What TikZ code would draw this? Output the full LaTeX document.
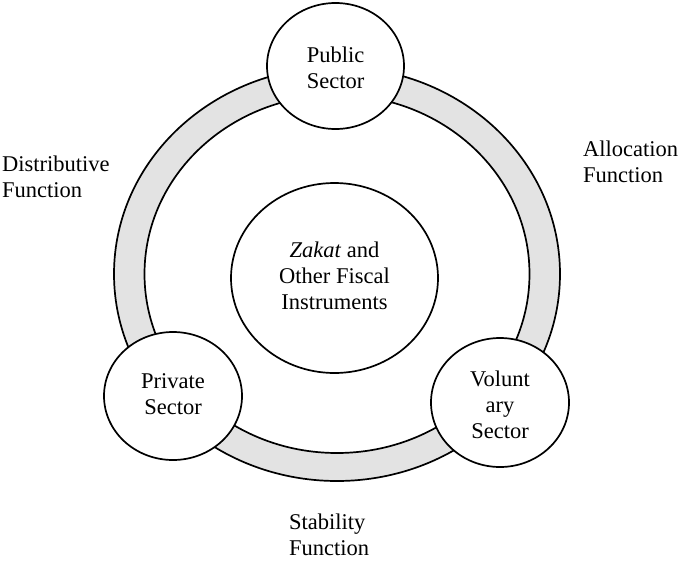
\documentclass[tikz,border=0pt]{standalone}
\usepackage{fontspec}
\setmainfont{Liberation Serif}
\newfontfamily\lserif{Liberation Serif}
\usetikzlibrary{shapes.geometric}
\definecolor{ringgray}{HTML}{E3E3E3}
\tikzset{
  sector/.style={ellipse, draw, fill=white, line width=1.7pt, inner sep=0pt, outer sep=0pt},
  lbl/.style={inner sep=0pt, anchor=base west},
  ringline/.style={line width=1.7pt},
}
\newcommand{\ctext}[1]{\begin{tabular}{@{}c@{}}#1\end{tabular}}
\newcommand{\ltext}[1]{\begin{tabular}[t]{@{}l@{}}#1\end{tabular}}
\newcommand{\lowerby}[2]{\raisebox{-#1}[\height][\depth]{#2}}
\begin{document}
\begin{tikzpicture}[x=1pt,y=-1pt,font=\lserif\fontsize{22.5pt}{26pt}\selectfont]
\useasboundingbox (0,0) rectangle (685,563);
% ring
\coordinate (rc) at (337,274);
\fill[ringgray, even odd rule] (rc) ellipse [x radius=223pt, y radius=207pt]
  (rc) ellipse [x radius=192.5pt, y radius=179pt];
\draw[ringline] (rc) ellipse [x radius=223pt, y radius=207pt];
\draw[ringline] (rc) ellipse [x radius=192.5pt, y radius=179pt];
% centre
\node[sector, minimum width=207pt, minimum height=190pt] (zakat) at (334.5,278)
  {\ctext{\textit{Zakat} and\\Other Fiscal\\Instruments}};
% sectors
\node[sector, minimum width=137pt, minimum height=126pt] (public) at (335.5,66)
  {\lowerby{4pt}{\ctext{Public\\Sector}}};
\node[sector, minimum width=138pt, minimum height=128pt] (private) at (173,396)
  {\ctext{Private\\Sector}};
\node[sector, minimum width=138pt, minimum height=129pt] (voluntary) at (500,402.5)
  {\lowerby{5pt}{\ctext{Volunt\\ary\\Sector}}};
% function labels
\node[lbl] (distributive) at (2,171.7) {\ltext{Distributive\\Function}};
\node[lbl] (allocation) at (583,156.7) {\ltext{Allocation\\Function}};
\node[lbl] (stability) at (289,529) {\ltext{Stability\\Function}};
\end{tikzpicture}
\end{document}
